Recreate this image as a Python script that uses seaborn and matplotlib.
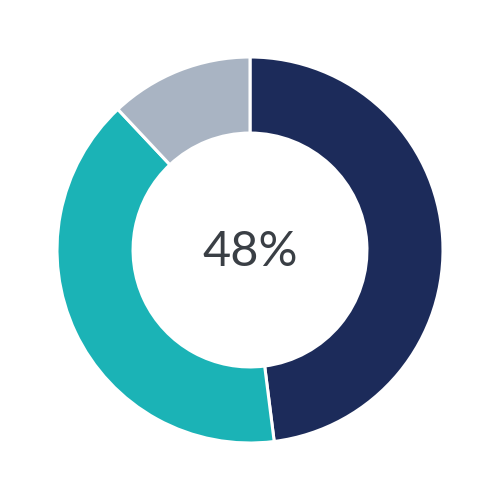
import matplotlib
matplotlib.use("Agg")
import matplotlib.pyplot as plt
import seaborn as sns

categories = ["Navy", "Teal", "Gray"]
values = [48, 40, 12]
colors = ["#1c2b5a", "#1bb3b6", "#a9b4c3"]
center_label = "48%"

sns.set_theme(style="white")
plt.rcParams["font.family"] = ["Lato", "DejaVu Sans"]

fig = plt.figure(figsize=(5, 5), dpi=100)
ax = fig.add_axes([0, 0, 1, 1])
ax.pie(values, colors=colors, startangle=90, counterclock=False,
       radius=1.0,
       wedgeprops=dict(width=0.394, edgecolor="white", linewidth=2.2))
ax.text(0, -0.01, center_label, ha="center", va="center", fontsize=35,
        color="#3a3f45", fontweight="normal")
lim = 250 / 193
ax.set_xlim(-lim, lim)
ax.set_ylim(-lim, lim)
ax.set_aspect("equal")
ax.axis("off")
fig.savefig("out.png", dpi=100, facecolor="white")
